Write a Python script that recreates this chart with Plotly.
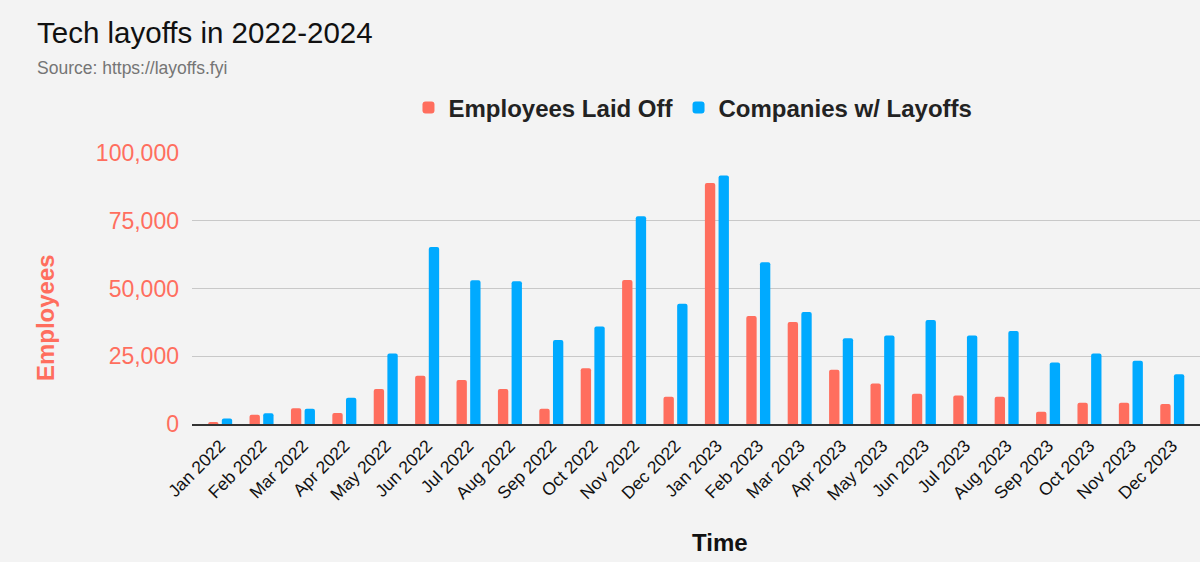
import plotly.graph_objects as go

months = ["Jan 2022", "Feb 2022", "Mar 2022", "Apr 2022", "May 2022", "Jun 2022",
          "Jul 2022", "Aug 2022", "Sep 2022", "Oct 2022", "Nov 2022", "Dec 2022",
          "Jan 2023", "Feb 2023", "Mar 2023", "Apr 2023", "May 2023", "Jun 2023",
          "Jul 2023", "Aug 2023", "Sep 2023", "Oct 2023", "Nov 2023", "Dec 2023"]

employees_laid_off = [740, 3440, 5770, 4050, 12880, 17790, 16200, 12880, 5640, 20610, 53130, 10060,
                      88960, 39880, 37670, 20000, 14970, 11170, 10550, 10060, 4540, 7850, 7850, 7360]

companies_with_layoffs = [6, 12, 17, 29, 78, 196, 159, 158, 93, 108, 230, 133,
                          275, 179, 124, 95, 98, 115, 98, 103, 68, 78, 70, 55]

y_ticks = [0, 25000, 50000, 75000, 100000]

RED = "#FF6E5E"
BLUE = "#00AAFF"
FONT = "Liberation Sans, Arial, sans-serif"

fig = go.Figure()
fig.add_trace(go.Bar(
    x=months, y=employees_laid_off, name="Employees Laid Off",
    marker=dict(color=RED, cornerradius=2, line=dict(width=0)),
    width=0.25, offset=-0.29, yaxis="y",
))
fig.add_trace(go.Bar(
    x=months, y=companies_with_layoffs, name="Companies w/ Layoffs",
    marker=dict(color=BLUE, cornerradius=2, line=dict(width=0)),
    width=0.25, offset=0.04, yaxis="y2",
))

fig.update_layout(
    width=1200, height=562,
    paper_bgcolor="#F3F3F3", plot_bgcolor="#F3F3F3",
    margin=dict(l=192, r=0, t=153, b=138),
    font=dict(family=FONT),
    showlegend=True,
    legend=dict(orientation="h", x=0.497, xanchor="center", y=1.166, yanchor="middle",
                font=dict(size=24, color="#222222", weight="bold"),
                bgcolor="rgba(0,0,0,0)", itemwidth=30, tracegroupgap=0),
    xaxis=dict(
        type="category", range=[-0.68, 23.67],
        tickangle=-45, tickfont=dict(size=17.5, color="#111111"),
        showline=True, linecolor="#333333", linewidth=1.5,
        showgrid=False, ticks="", ticklen=0, ticklabelstandoff=3,
    ),
    yaxis=dict(
        range=[0, 100000], tickvals=y_ticks, tickformat=",d",
        tickfont=dict(size=23, color=RED),
        showgrid=True, gridcolor="#C8C8C8", gridwidth=1,
        zeroline=False, ticks="", ticklabelstandoff=12,
    ),
    yaxis2=dict(
        range=[0, 300], overlaying="y", side="right",
        showticklabels=False, showgrid=False, zeroline=False, ticks="",
    ),
    annotations=[
        dict(text="Tech layoffs in 2022-2024", xref="paper", yref="paper",
             x=-0.1558, y=1.443, xanchor="left", yanchor="middle", showarrow=False,
             font=dict(size=29.5, color="#111111")),
        dict(text="Source: https://layoffs.fyi", xref="paper", yref="paper",
             x=-0.1558, y=1.3137, xanchor="left", yanchor="middle", showarrow=False,
             font=dict(size=17.5, color="#757575")),
        dict(text="Employees", xref="paper", yref="paper",
             x=-0.1458, y=0.391, xanchor="center", yanchor="middle", showarrow=False,
             textangle=-90, font=dict(size=24, color=RED, weight="bold")),
        dict(text="Time", xref="paper", yref="paper",
             x=0.524, y=-0.439, xanchor="center", yanchor="middle", showarrow=False,
             font=dict(size=24, color="#111111", weight="bold")),
    ],
)

fig.write_html(
    "out.html",
    config={"displayModeBar": False},
    post_script="document.body.style.margin='0';document.body.style.overflow='hidden';"
                "document.body.style.background='#F3F3F3';",
)
